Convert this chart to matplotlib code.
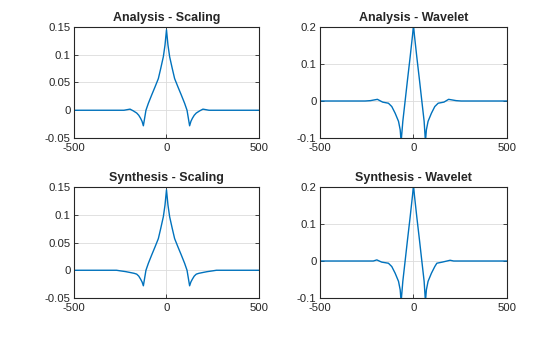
import matplotlib
matplotlib.use("Agg")
import matplotlib.pyplot as plt
from matplotlib.ticker import FormatStrFormatter

plt.rcParams['font.family'] = ['Liberation Sans', 'DejaVu Sans']
plt.rcParams['axes.unicode_minus'] = False

# analysis scaling function
x_scal_a = [-500, -230, -197, -180, -161, -150, -140, -132, -125, -111, -98, -80, -62, -44, -31, -17, -8, 0,
            8, 17, 31, 44, 62, 80, 98, 111, 125, 132, 140, 150, 161, 180, 197, 230, 500]
y_scal_a = [0, 0, 0.002, -0.001, -0.005, -0.009, -0.0145, -0.02, -0.028, 0.0, 0.0125, 0.0275, 0.042, 0.057, 0.0755, 0.0965, 0.1175, 0.145,
            0.1175, 0.0965, 0.0755, 0.057, 0.042, 0.0275, 0.0125, 0.0, -0.028, -0.02, -0.0145, -0.009, -0.005, -0.001, 0.002, 0, 0]

# synthesis scaling function
x_scal_s = [-500, -270, -251, -220, -197, -175, -161, -150, -140, -132, -125, -111, -98, -80, -62, -44, -31, -17, -8, 0,
            8, 17, 31, 44, 62, 80, 98, 111, 125, 132, 140, 150, 161, 175, 197, 220, 251, 270, 500]
y_scal_s = [0, 0, -0.001, -0.0025, -0.004, -0.0055, -0.007, -0.0105, -0.016, -0.021, -0.028, 0.0, 0.0125, 0.0275, 0.042, 0.057, 0.0755, 0.0965, 0.1175, 0.145,
            0.1175, 0.0965, 0.0755, 0.057, 0.042, 0.0275, 0.0125, 0.0, -0.028, -0.021, -0.016, -0.0105, -0.007, -0.0055, -0.004, -0.0025, -0.001, 0, 0]

# analysis wavelet
x_wav_a = [-500, -259, -230, -193, -165, -134, -116, -98, -80, -71, -66, -57, -44, -32, -18, -5, 0,
           5, 18, 32, 44, 57, 64, 69, 78, 96, 114, 132, 163, 188, 228, 255, 500]
y_wav_a = [0, 0, 0.001, 0.0045, -0.003, -0.006, -0.015, -0.033, -0.055, -0.078, -0.11, -0.055, 0.003, 0.057, 0.118, 0.178, 0.205,
           0.178, 0.118, 0.057, 0.003, -0.055, -0.11, -0.078, -0.055, -0.033, -0.015, -0.006, -0.003, 0.0045, 0.001, 0, 0]

# synthesis wavelet
x_wav_s = [-500, -215, -196, -170, -134, -116, -98, -80, -71, -66, -57, -44, -32, -18, -5, 0,
           5, 18, 32, 44, 57, 64, 69, 78, 96, 114, 125, 154, 196, 215, 500]
y_wav_s = [0, 0, 0.003, -0.003, -0.006, -0.015, -0.033, -0.055, -0.078, -0.11, -0.055, 0.003, 0.057, 0.118, 0.178, 0.205,
           0.178, 0.118, 0.057, 0.003, -0.055, -0.11, -0.078, -0.055, -0.033, -0.015, -0.006, -0.003, 0.002, 0, 0]

titles = ["Analysis - Scaling", "Analysis - Wavelet", "Synthesis - Scaling", "Synthesis - Wavelet"]
xticks = [-500, 0, 500]
yticks_scal = [-0.05, 0, 0.05, 0.1, 0.15]
yticks_wav = [-0.1, 0, 0.1, 0.2]

fig = plt.figure(figsize=(5.6, 3.37), dpi=100)

# axes boxes (left, bottom, width, height) in figure fraction
pos = [
    [0.1321, 0.5905, 0.3304, 0.3294],
    [0.5714, 0.5905, 0.3339, 0.3294],
    [0.1321, 0.1157, 0.3304, 0.3294],
    [0.5714, 0.1157, 0.3339, 0.3294],
]
series = [(x_scal_a, y_scal_a), (x_wav_a, y_wav_a), (x_scal_s, y_scal_s), (x_wav_s, y_wav_s)]

dark = '#262626'
for i in range(4):
    ax = fig.add_axes(pos[i])
    ax.plot(series[i][0], series[i][1], color='#0072BD', lw=1.0)
    ax.set_xlim(-500, 500)
    ax.set_xticks(xticks)
    if i % 2 == 0:
        ax.set_ylim(-0.05, 0.15)
        ax.set_yticks(yticks_scal)
    else:
        ax.set_ylim(-0.1, 0.2)
        ax.set_yticks(yticks_wav)
    ax.yaxis.set_major_formatter(FormatStrFormatter('%g'))
    ax.grid(True, color='#dcdcdc', lw=0.6)
    ax.set_axisbelow(True)
    for s in ax.spines.values():
        s.set_color(dark)
        s.set_linewidth(0.8)
    ax.tick_params(direction='in', length=3, width=0.6, colors=dark, labelsize=8.2,
                   top=True, right=True)
    ax.tick_params(axis='x', pad=3.4)
    ax.tick_params(axis='y', pad=2.5)
    ax.set_title(titles[i], fontsize=9, fontweight='bold', color=dark, pad=4)

fig.savefig("out.png", dpi=100)
